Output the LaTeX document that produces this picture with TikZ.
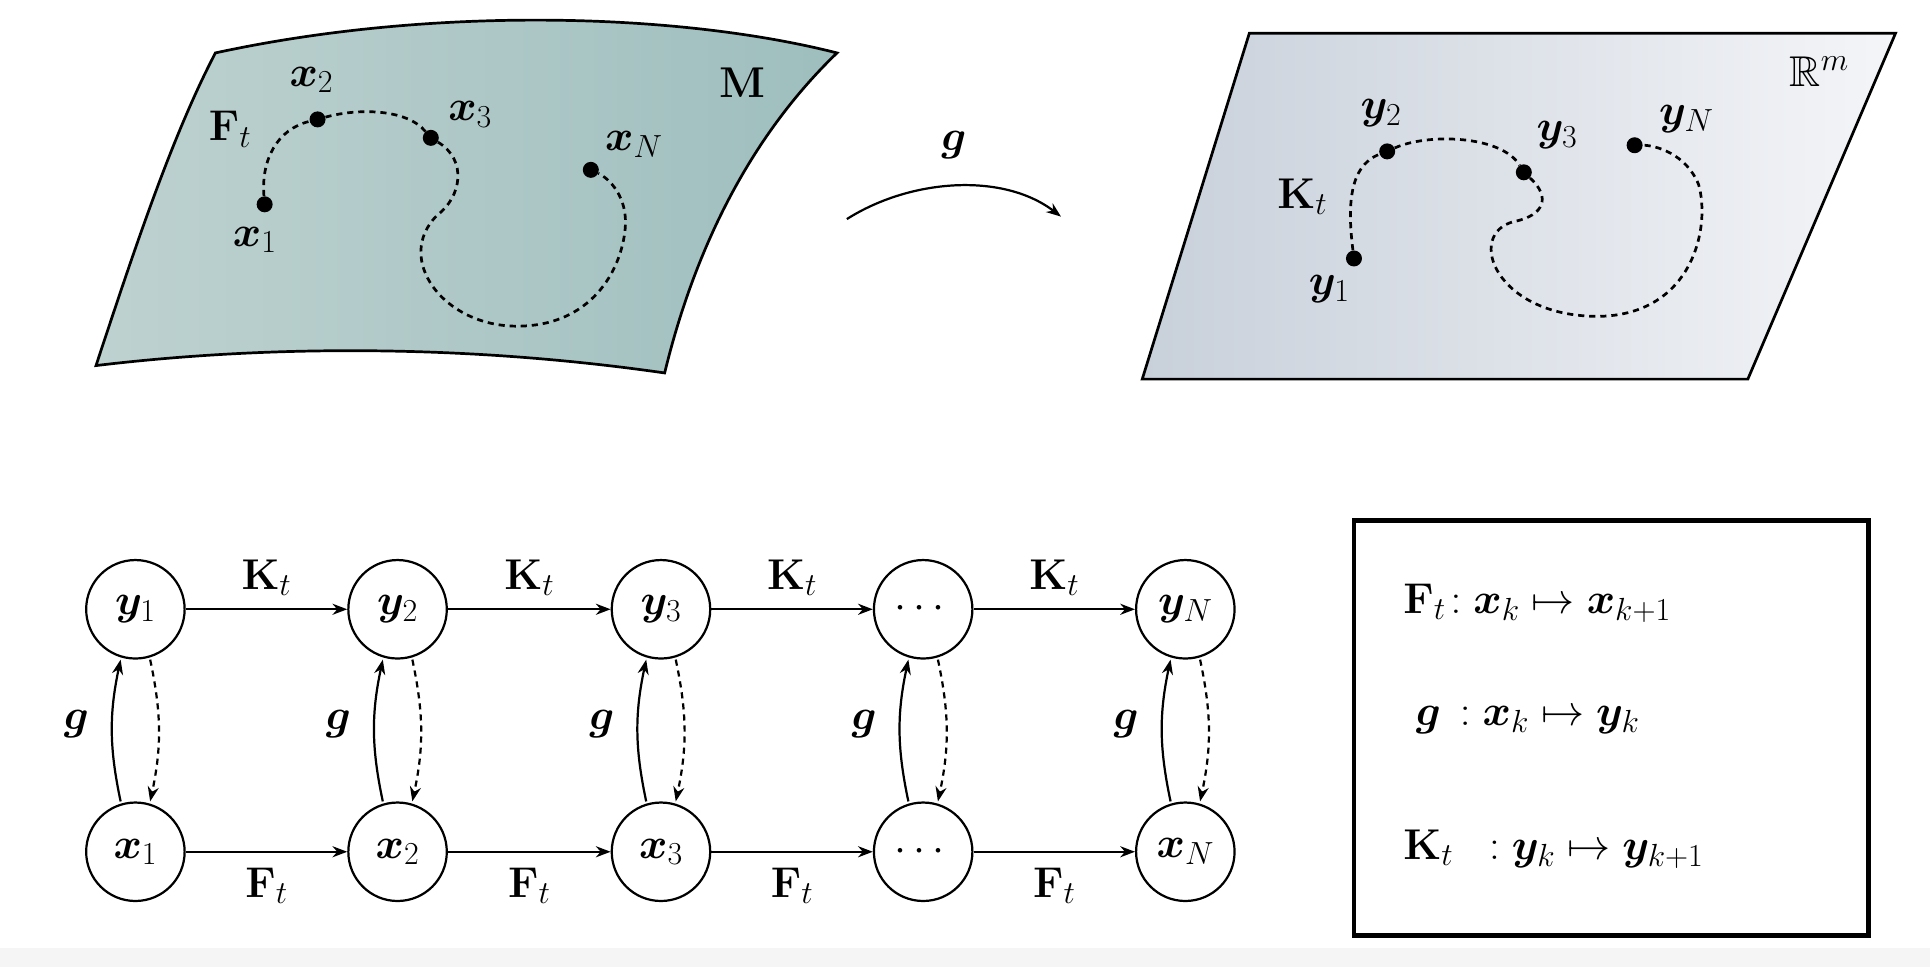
\RequirePackage{fix-cm}
\documentclass[tikz,border=0pt]{standalone}
\usepackage{amsmath,amssymb,bm}
\usetikzlibrary{arrows.meta}
\DeclareMathSizes{35}{35}{26}{20}
\begin{document}
\fontsize{35}{40}\selectfont
\begin{tikzpicture}[x=1pt,y=-1pt,
  dot/.style={circle,fill=black,inner sep=0pt,minimum size=13pt},
  st/.style={circle,draw,line width=1.8pt,minimum size=80pt,inner sep=0pt},
  ar/.style={-{Stealth[length=12pt,width=9pt]},line width=1.8pt},
  dsh/.style={line width=2.2pt,dash pattern=on 5pt off 4pt},
  lb/.style={inner sep=0pt}]
\useasboundingbox (0,0) rectangle (1568,786);
\fill[gray!8] (0,770) rectangle (1568,786);
% manifold
\shade[left color={rgb,255:red,190;green,210;blue,208},right color={rgb,255:red,158;green,190;blue,190},draw=black,line width=2.2pt]
 (175,43) .. controls (350,5) and (550,10) .. (680,43)
 .. controls (600,120) and (560,220) .. (540,303)
 .. controls (380,280) and (220,280) .. (78,297)
 .. controls (110,200) and (140,110) .. (175,43) -- cycle;
\node[dot] (x1) at (215,166) {};
\node[dot] (x2) at (258,97) {};
\node[dot] (x3) at (350,112) {};
\node[dot] (xN) at (480,138) {};
\draw[dsh] (x1) .. controls (212,130) and (225,105) .. (x2);
\draw[dsh] (x2) .. controls (290,88) and (330,88) .. (x3);
\draw[dsh] (x3) .. controls (380,130) and (375,160) .. (355,175)
 .. controls (320,210) and (360,265) .. (420,265)
 .. controls (480,265) and (505,220) .. (508,185)
 .. controls (510,160) and (495,145) .. (xN);
\node[lb] (lx2) at (253,65) {$\bm{x}_2$};
\node[lb] (lx3) at (382,93) {$\bm{x}_3$};
\node[lb] (lxN) at (515,117) {$\bm{x}_N$};
\node[lb] (lx1) at (207,195) {$\bm{x}_1$};
\node[lb] (lFt) at (187,105) {$\mathbf{F}_t$};
\node[lb] (lM) at (603,67) {$\mathbf{M}$};
% plane
\shade[left color={rgb,255:red,200;green,208;blue,218},right color={rgb,255:red,244;green,245;blue,248},draw=black,line width=2.2pt]
 (1015,27) -- (1540,27) -- (1420,308) -- (928,308) -- cycle;
\node[lb] (lR) at (1478,58) {$\mathbb{R}^m$};
\node[dot] (y1) at (1100,210) {};
\node[dot] (y2) at (1127,123) {};
\node[dot] (y3) at (1238,140) {};
\node[dot] (yN) at (1328,118) {};
\draw[dsh] (y1) .. controls (1095,170) and (1095,135) .. (y2);
\draw[dsh] (y2) .. controls (1160,108) and (1220,110) .. (y3);
\draw[dsh] (y3) .. controls (1260,160) and (1255,175) .. (1230,180)
 .. controls (1190,190) and (1215,258) .. (1300,257)
 .. controls (1375,255) and (1390,185) .. (1380,150)
 .. controls (1370,125) and (1345,118) .. (yN);
\node[lb] (ly2) at (1122,92) {$\bm{y}_2$};
\node[lb] (ly3) at (1265,110) {$\bm{y}_3$};
\node[lb] (lyN) at (1370,97) {$\bm{y}_N$};
\node[lb] (ly1) at (1080,235) {$\bm{y}_1$};
\node[lb] (lKt) at (1058,160) {$\mathbf{K}_t$};
% g arrow
\coordinate (ga) at (688,178);
\coordinate (gb) at (862,176);
\draw[ar] (ga) .. controls (740,145) and (815,140) .. (gb);
\node[lb] (lg) at (775,118) {$\bm{g}$};
% bottom chain
\foreach \i/\xx/\yl/\xl in {1/110/{\bm{y}_1}/{\bm{x}_1},2/323/{\bm{y}_2}/{\bm{x}_2},3/537/{\bm{y}_3}/{\bm{x}_3},4/750/{\cdots}/{\cdots},5/963/{\bm{y}_N}/{\bm{x}_N}}{
  \node[st] (Y\i) at (\xx,495) {$\yl$};
  \node[st] (X\i) at (\xx,692) {$\xl$};
  \draw[ar] ([xshift=-12pt]X\i.north) to[bend left=12] ([xshift=-12pt]Y\i.south);
  \draw[ar,dash pattern=on 5pt off 4pt] ([xshift=12pt]Y\i.south) to[bend left=12] ([xshift=12pt]X\i.north);
  \node[lb] at (\xx-48,588) {$\bm{g}$};
}
\foreach \a/\b in {1/2,2/3,3/4,4/5}{
  \draw[ar] (Y\a) -- node[above=10pt,lb]{$\mathbf{K}_t$} (Y\b);
  \draw[ar] (X\a) -- node[below=12pt,lb]{$\mathbf{F}_t$} (X\b);
}
% legend
\node[draw,line width=4pt,minimum width=418pt,minimum height=337pt] (box) at (1309,591.5) {};
\node[lb,anchor=west] (l1) at (1140,490) {$\mathbf{F}_t\!: \bm{x}_k \mapsto \bm{x}_{k+1}$};
\node[lb,anchor=west] (l2) at (1150,585) {$\bm{g}\,:\bm{x}_k \mapsto \bm{y}_k$};
\node[lb,anchor=west] (l3) at (1140,690) {$\mathbf{K}_t\;\;:\bm{y}_k \mapsto \bm{y}_{k+1}$};
\end{tikzpicture}
\end{document}
